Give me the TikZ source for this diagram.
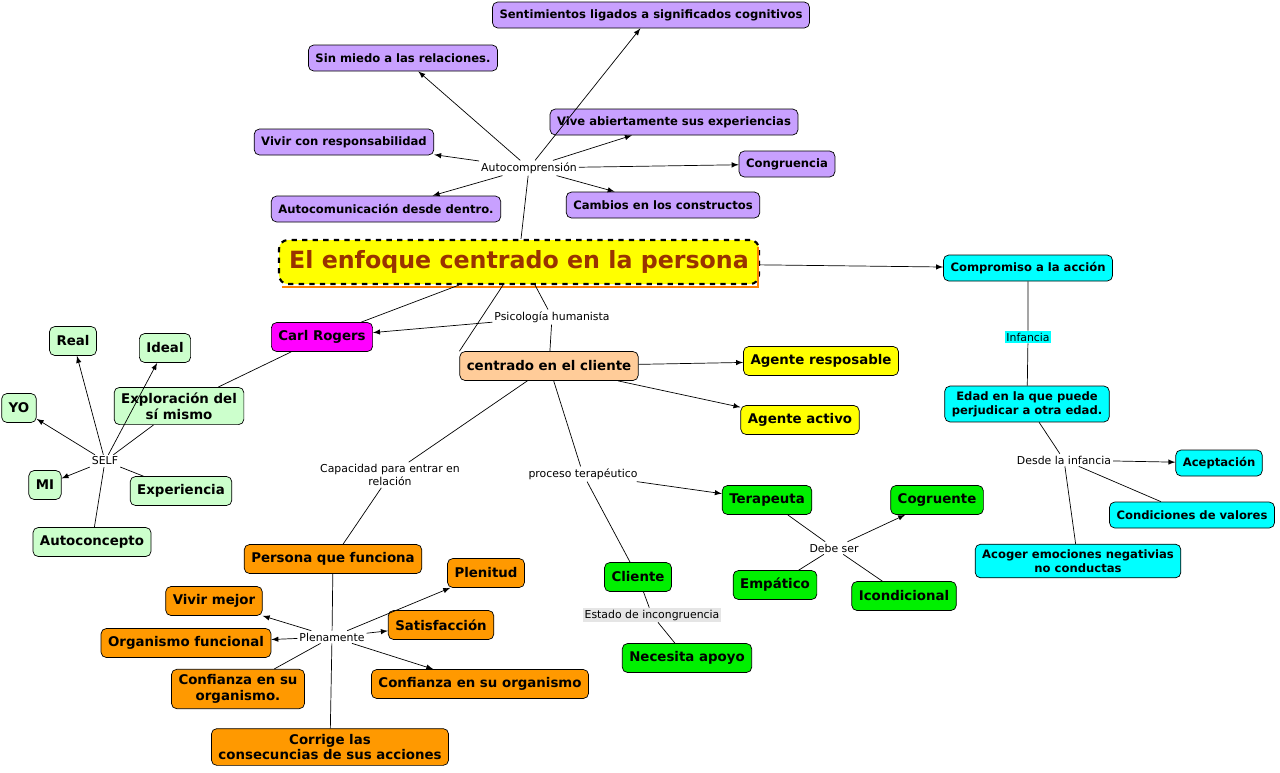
\documentclass[tikz,border=0pt]{standalone}
\usepackage{fontspec}
\setmainfont{DejaVu Sans}
\definecolor{lila}{RGB}{200,160,255}
\definecolor{celeste}{RGB}{0,255,255}
\definecolor{rosa}{RGB}{255,0,255}
\definecolor{durazno}{RGB}{255,204,153}
\definecolor{amarillo}{RGB}{255,255,0}
\definecolor{verdecl}{RGB}{204,255,204}
\definecolor{naranja}{RGB}{255,153,0}
\definecolor{verde}{RGB}{0,240,0}
\definecolor{cafe}{RGB}{153,51,0}
\tikzset{
  concepto/.style={draw, rounded corners=3pt, align=center, inner xsep=4pt, inner ysep=3pt,
    minimum height=0.52cm, font=\fontsize{6.6}{8}\selectfont\bfseries},
  grande/.style={concepto, font=\fontsize{7.6}{9}\selectfont\bfseries, minimum height=0.58cm},
  enlace/.style={fill=white, inner sep=1pt, align=center, font=\fontsize{6.2}{7.4}\selectfont},
  flecha/.style={-latex},
}
\begin{document}
\begin{tikzpicture}[x=0.02cm, y=-0.02cm]
\useasboundingbox (0,0) rectangle (1280,772);

% Autocomprension
\node[concepto, fill=lila] (sentimientos) at (651,15) {Sentimientos ligados a significados cognitivos};
\node[concepto, fill=lila] (sinmiedo) at (403,58) {Sin miedo a las relaciones.};
\node[concepto, fill=lila] (vive) at (674,122) {Vive abiertamente sus experiencias};
\node[concepto, fill=lila] (vivir) at (344,142) {Vivir con responsabilidad};
\node[concepto, fill=lila] (congruencia) at (787,164) {Congruencia};
\node[concepto, fill=lila] (autocom) at (386,209) {Autocomunicación desde dentro.};
\node[concepto, fill=lila] (cambios) at (663,205) {Cambios en los constructos};
\node[enlace] (autocomp) at (529,168) {Autocomprensión};

% centro
\node[draw, dashed, line width=1.2pt, rounded corners=5pt, fill=amarillo, text=cafe,
  minimum width=9.6cm, minimum height=0.88cm, font=\fontsize{13.5}{16}\selectfont\bfseries]
  (enfoque) at (519,262) {El enfoque centrado en la persona};
\draw[orange, line width=1.2pt] (enfoque.south west) ++(4,2) -- ++(476,0) -- ++(0,-40);

% compromiso
\node[concepto, fill=celeste] (compromiso) at (1028,268) {Compromiso a la acción};
\node[enlace, fill=celeste] (infancia) at (1028,337) {Infancia};
\node[concepto, fill=celeste] (edad) at (1027,404) {Edad en la que puede\\perjudicar a otra edad.};
\node[enlace] (desde) at (1064,460) {Desde la infancia};
\node[concepto, fill=celeste] (aceptacion) at (1219,463) {Aceptación};
\node[concepto, fill=celeste] (condiciones) at (1192,515) {Condiciones de valores};
\node[concepto, fill=celeste] (acoger) at (1078,561) {Acoger emociones negativias\\no conductas};

% Rogers y cliente
\node[grande, fill=rosa] (rogers) at (322,337) {Carl Rogers};
\node[enlace] (psico) at (552,317) {Psicología humanista};
\node[grande, fill=durazno] (cliente) at (549,366) {centrado en el cliente};
\node[grande, fill=amarillo] (responsable) at (821,361) {Agente resposable};
\node[grande, fill=amarillo] (activo) at (800,420) {Agente activo};

% self
\node[grande, fill=verdecl] (real) at (73,341) {Real};
\node[grande, fill=verdecl] (ideal) at (165,348) {Ideal};
\node[grande, fill=verdecl] (explora) at (179,406) {Exploración del\\sí mismo};
\node[grande, fill=verdecl] (yo) at (19,408) {YO};
\node[enlace] (self) at (105,461) {SELF};
\node[grande, fill=verdecl] (mi) at (45,485) {MI};
\node[grande, fill=verdecl] (experiencia) at (181,491) {Experiencia};
\node[grande, fill=verdecl] (autoconcepto) at (92,542) {Autoconcepto};

\node[enlace] (capacidad) at (390,475) {Capacidad para entrar en\\relación};
\node[enlace] (proceso) at (583,474) {proceso terapéutico};

% persona que funciona
\node[grande, fill=naranja] (persona) at (333,559) {Persona que funciona};
\node[grande, fill=naranja] (plenitud) at (486,573) {Plenitud};
\node[grande, fill=naranja] (mejor) at (214,601) {Vivir mejor};
\node[grande, fill=naranja] (satisfaccion) at (441,625) {Satisfacción};
\node[grande, fill=naranja] (funcional) at (186,643) {Organismo funcional};
\node[enlace] (plenamente) at (332,637) {Plenamente};
\node[grande, fill=naranja] (confianzaa) at (238,689) {Confianza en su\\organismo.};
\node[grande, fill=naranja] (confianzab) at (480,684) {Confianza en su organismo};
\node[grande, fill=naranja] (corrige) at (330,747) {Corrige las\\consecuncias de sus acciones};

% terapeuta
\node[grande, fill=verde] (terapeuta) at (767,500) {Terapeuta};
\node[grande, fill=verde] (cogruente) at (937,500) {Cogruente};
\node[enlace] (debe) at (834,548) {Debe ser};
\node[grande, fill=verde] (empatico) at (775,585) {Empático};
\node[grande, fill=verde] (icondicional) at (904,596) {Icondicional};
\node[grande, fill=verde] (clientec) at (638,577) {Cliente};
\node[enlace, fill=black!10] (estado) at (652,615) {Estado de incongruencia};
\node[grande, fill=verde] (apoyo) at (687,658) {Necesita apoyo};

% conexiones
\draw (enfoque.north) ++(2,0) -- (autocomp);
\foreach \d in {sentimientos, sinmiedo, vive, vivir, congruencia, autocom, cambios}
  \draw[flecha] (autocomp) -- (\d);
\draw[flecha] (enfoque) -- (compromiso);
\draw (compromiso) -- (infancia) -- (edad);
\draw (edad) -- (desde);
\draw[flecha] (desde) -- (aceptacion);
\draw (desde) -- (condiciones);
\draw (desde) -- (acoger);

\draw (enfoque.south) ++(16,0) -- (psico);
\draw[flecha] (psico) -- (rogers);
\draw (psico) -- (cliente);
\draw (enfoque.south) ++(-60,0) -- (rogers);
\draw (enfoque.south) ++(-16,0) -- (cliente.north west);
\draw[flecha] (cliente) -- (responsable);
\draw[flecha] (cliente) -- (activo);

\draw (rogers) -- (explora);
\draw (explora) -- (self);
\foreach \d in {real, ideal, yo, mi}
  \draw[flecha] (self) -- (\d);
\draw (self) -- (experiencia);
\draw (self) -- (autoconcepto);

\draw (cliente) -- (capacidad) -- (persona);
\draw (cliente) -- (proceso);
\draw[flecha] (proceso) -- (terapeuta);
\draw (proceso) -- (clientec);
\draw (clientec) -- (estado) -- (apoyo);
\draw (terapeuta) -- (debe);
\draw[flecha] (debe) -- (cogruente);
\draw (debe) -- (empatico);
\draw (debe) -- (icondicional);

\draw (persona) -- (plenamente);
\foreach \d in {plenitud, mejor, satisfaccion, funcional, confianzab}
  \draw[flecha] (plenamente) -- (\d);
\draw (plenamente) -- (confianzaa);
\draw (plenamente) -- (corrige);
\end{tikzpicture}
\end{document}
